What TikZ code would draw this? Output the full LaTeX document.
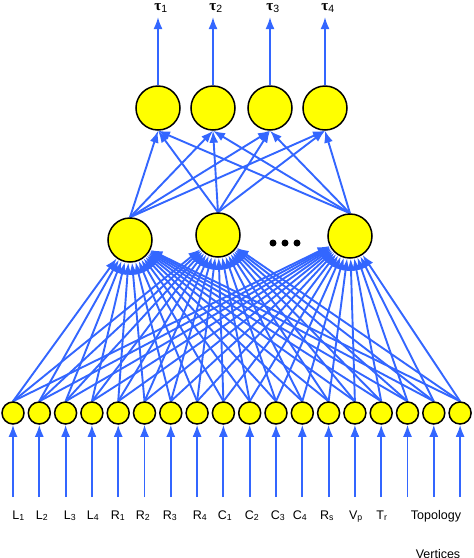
\documentclass[tikz,border=0pt]{standalone}
\usepackage{fontspec}
\setmainfont{Liberation Sans}
\newfontfamily\grk{Liberation Serif}
\usetikzlibrary{arrows.meta}
\pgfdeclarelayer{bg}
\pgfsetlayers{bg,main}
\definecolor{netblue}{RGB}{51,102,255}
\definecolor{neuron}{RGB}{255,255,0}
\begin{document}
\begin{tikzpicture}[x=1pt,y=-1pt,
  neu/.style={circle,draw=black,line width=1.5pt,fill=neuron,inner sep=0pt,minimum size=#1},
  conn/.style={draw=netblue,line width=1.9pt,-{Latex[length=12pt,width=9pt]}},
  lab/.style={font=\fontsize{12.5}{14}\selectfont,inner sep=0pt,anchor=base},
  tau/.style={font=\fontsize{15}{17}\selectfont,inner sep=0pt,anchor=base}]
\useasboundingbox (0,0) rectangle (474,558);
% input layer
\foreach \i in {0,...,17} {
  \node[neu=22pt] (b\i) at ({13+26.3*\i},413) {};
  \coordinate (in\i) at ({13+26.3*\i},497);
}
% hidden layer
\node[neu=44pt] (h1) at (130,240) {};
\node[neu=44pt] (h2) at (218,235) {};
\node[neu=44pt] (h3) at (350,236) {};
% output layer
\node[neu=44pt] (o1) at (158,108) {};
\node[neu=44pt] (o2) at (213,108) {};
\node[neu=44pt] (o3) at (270,108) {};
\node[neu=44pt] (o4) at (325,108) {};
\foreach \o/\x in {o1/158,o2/213,o3/270,o4/325}
  \coordinate (t\o) at (\x,17);
% dots
\fill (273,243) circle (3.5pt);
\fill (285,243) circle (3.5pt);
\fill (297,243) circle (3.5pt);
\begin{pgfonlayer}{bg}
\foreach \i in {0,...,17} {
  \draw[conn] (in\i) -- (b\i);
  \foreach \h in {h1,h2,h3}
    \draw[conn] (b\i.north) -- (\h);
}
\foreach \h in {h1,h2,h3}
  \foreach \o in {o1,o2,o3,o4}
    \draw[conn] (\h.north) -- (\o.south);
\foreach \o in {o1,o2,o3,o4}
  \draw[conn] (\o.north) -- (t\o);
\end{pgfonlayer}
% output labels
\node[tau] (l1) at (161,10.5) {{\grk\bfseries τ}\textsubscript{1}};
\node[tau] (l2) at (216,10.5) {{\grk\bfseries τ}\textsubscript{2}};
\node[tau] (l3) at (273,10.5) {{\grk\bfseries τ}\textsubscript{3}};
\node[tau] (l4) at (328,10.5) {{\grk\bfseries τ}\textsubscript{4}};
% input labels
\node[lab] (x1) at (18.5,519) {L\textsubscript{1}};
\node[lab] (x2) at (42,519) {L\textsubscript{2}};
\node[lab] (x3) at (70,519) {L\textsubscript{3}};
\node[lab] (x4) at (93,519) {L\textsubscript{4}};
\node[lab] (x5) at (118,519) {R\textsubscript{1}};
\node[lab] (x6) at (143,519) {R\textsubscript{2}};
\node[lab] (x7) at (170,519) {R\textsubscript{3}};
\node[lab] (x8) at (200,519) {R\textsubscript{4}};
\node[lab] (x9) at (225,519) {C\textsubscript{1}};
\node[lab] (x10) at (252,519) {C\textsubscript{2}};
\node[lab] (x11) at (278,519) {C\textsubscript{3}};
\node[lab] (x12) at (300,519) {C\textsubscript{4}};
\node[lab] (x13) at (327,519) {R\textsubscript{s}};
\node[lab] (x14) at (356,519) {V\textsubscript{p}};
\node[lab] (x15) at (382,519) {T\textsubscript{r}};
\node[lab] (x16) at (436,519) {Topology};
\node[lab] (x17) at (438,558) {Vertices};
\end{tikzpicture}
\end{document}
